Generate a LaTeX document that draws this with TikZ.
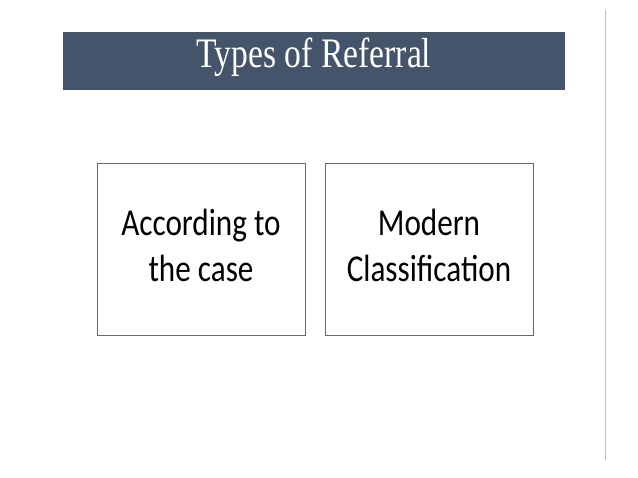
\documentclass[tikz,border=0pt]{standalone}
\usepackage{fontspec}
\setmainfont{Liberation Serif}
\newfontfamily\boxfont{Carlito}
\definecolor{titlebg}{HTML}{44546A}
\begin{document}
\begin{tikzpicture}[x=1pt,y=-1pt,
  box/.style={draw=black!60,line width=0.7pt,minimum width=208pt,minimum height=172pt,inner sep=0pt},
  boxtext/.style={font=\boxfont\fontsize{38}{46}\selectfont,align=center,xscale=0.82}]
\useasboundingbox (0,0) rectangle (638,478);
\fill[white] (0,0) rectangle (638,478);
\node[fill=titlebg,minimum width=502pt,minimum height=58pt,inner sep=0pt] (title) at (314,61) {};
\node[text=white,font=\fontsize{42}{46}\selectfont,xscale=0.8] (tt) at (314,57) {Types of Referral};
\node[box] (left) at (201,249) {};
\node[box] (right) at (429,249) {};
\node[boxtext] (lt) at (201,245) {According to\\the case};
\node[boxtext] (rt) at (429,245) {Modern\\Classification};
\coordinate (v1) at (605,10);
\coordinate (v2) at (605,460);
\draw[black!25,line width=1pt] (v1) -- (v2);
\end{tikzpicture}
\end{document}
